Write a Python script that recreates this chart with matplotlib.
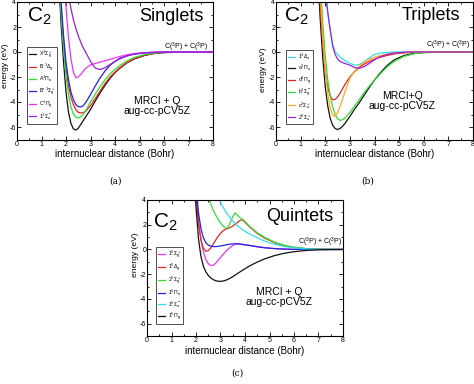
import matplotlib
matplotlib.use("Agg")
import matplotlib.pyplot as plt
from matplotlib.ticker import MultipleLocator

plt.rcParams['font.family'] = ['Liberation Sans', 'DejaVu Sans']
plt.rcParams['mathtext.fontset'] = 'custom'
plt.rcParams['mathtext.rm'] = 'Liberation Sans'
plt.rcParams['mathtext.it'] = 'Liberation Sans'
plt.rcParams['mathtext.default'] = 'regular'
plt.rcParams['axes.unicode_minus'] = False

# ---- data ----
r_sing = [1.7, 1.8, 1.9, 2.0, 2.1, 2.2, 2.3, 2.4, 2.5, 2.6, 2.7, 2.8, 3.0, 3.2, 3.4,
          3.6, 3.8, 4.0, 4.2, 4.5, 4.8, 5.2, 5.6, 6.0, 7.0, 8.0]
sing_X = [6.0, 2.2, -0.8, -3.2, -4.8, -5.7, -6.15, -6.25, -6.1, -5.8, -5.5, -5.2, -4.6, -3.9,
          -3.25, -2.65, -2.1, -1.65, -1.3, -0.85, -0.55, -0.28, -0.12, -0.05, 0, 0]
sing_B = [7.0, 3.5, 0.8, -1.3, -2.7, -3.6, -4.2, -4.6, -4.82, -4.88, -4.85, -4.75, -4.3, -3.7,
          -3.1, -2.5, -2.0, -1.6, -1.25, -0.82, -0.52, -0.26, -0.11, -0.04, 0, 0]
sing_A = [6.5, 3.0, 0.3, -1.9, -3.4, -4.4, -4.95, -5.2, -5.28, -5.2, -5.0, -4.7, -4.0, -3.35,
          -2.75, -2.2, -1.75, -1.38, -1.07, -0.7, -0.43, -0.21, -0.09, -0.03, 0, 0]
sing_Bp = [7.5, 4.0, 1.3, -0.8, -2.2, -3.2, -3.8, -4.2, -4.37, -4.4, -4.3, -4.05, -3.4, -2.7,
           -2.05, -1.5, -1.05, -0.75, -0.5, -0.3, -0.17, -0.08, -0.03, 0, 0, 0]
sing_C = [9.0, 8.0, 6.5, 3.6, 1.2, -0.5, -1.6, -2.05, -2.0, -1.8, -1.55, -1.32, -1.02, -0.92,
          -0.8, -0.7, -0.58, -0.47, -0.36, -0.22, -0.12, -0.05, -0.02, 0, 0, 0]
sing_1Su = [14, 11, 8.5, 6.0, 4.6, 3.5, 2.6, 1.9, 1.3, 0.8, 0.35, 0.0, -0.75, -1.3, -1.4,
            -1.25, -1.0, -0.75, -0.55, -0.3, -0.15, -0.06, -0.02, 0, 0, 0]

r_trip = r_sing
trip_1D = [14, 10, 7, 5.0, 3.2, 1.8, 0.6, 0.05, -0.2, -0.4, -0.55, -0.7, -0.9, -1.05, -1.0,
           -0.75, -0.45, -0.2, -0.1, -0.03, 0, 0, 0, 0, 0, 0]
trip_a = [6.0, 2.5, -0.5, -2.8, -4.3, -5.3, -5.85, -6.12, -6.2, -6.12, -5.95, -5.72, -5.15,
          -4.55, -4.0, -3.4, -2.8, -2.25, -1.75, -1.1, -0.63, -0.28, -0.11, -0.04, 0, 0]
trip_d = [7.0, 3.5, 0.6, -1.5, -2.8, -3.5, -3.82, -3.8, -3.6, -3.3, -2.95, -2.6, -2.0, -1.55,
          -1.2, -0.95, -0.75, -0.58, -0.44, -0.28, -0.16, -0.07, -0.02, 0, 0, 0]
trip_b = [9.0, 5.5, 2.4, -0.3, -2.2, -3.5, -4.4, -5.0, -5.35, -5.47, -5.42, -5.28, -4.85, -4.3,
          -3.75, -3.2, -2.7, -2.25, -1.82, -1.22, -0.75, -0.35, -0.14, -0.05, 0, 0]
trip_c = [8.0, 4.5, 1.2, -1.5, -3.3, -4.5, -5.05, -5.15, -4.85, -4.35, -3.8, -3.2, -2.1, -1.5,
          -1.1, -0.8, -0.58, -0.42, -0.3, -0.17, -0.08, -0.03, 0, 0, 0, 0]
trip_2S = [14, 10, 7, 5.0, 3.2, 1.8, 0.5, -0.2, -0.55, -0.75, -0.85, -0.92, -1.05, -1.25, -1.3,
           -1.15, -0.9, -0.62, -0.4, -0.2, -0.08, -0.02, 0, 0, 0, 0]

r_quin = [1.9, 2.0, 2.1, 2.2, 2.3, 2.4, 2.5, 2.6, 2.7, 2.8, 2.9, 3.0, 3.1, 3.2, 3.3, 3.4, 3.5,
          3.6, 3.7, 3.8, 3.9, 4.0, 4.2, 4.5, 4.8, 5.2, 5.6, 6.0, 6.5, 7.0, 8.0]
quin_1Sg = [9, 4.5, 2.2, 0.8, -0.2, -0.8, -1.15, -1.3, -1.28, -1.12, -0.9, -0.65, -0.42, -0.2,
            0.0, 0.17, 0.32, 0.42, 0.44, 0.43, 0.41, 0.38, 0.32, 0.22, 0.14, 0.07, 0.03, 0.01, 0, 0, 0]
quin_1Dg = [9, 4.8, 2.2, 0.8, 0.1, -0.15, -0.1, 0.12, 0.42, 0.75, 1.05, 1.3, 1.5, 1.63, 1.7,
            1.78, 1.9, 2.05, 2.2, 2.35, 2.4, 2.2, 1.8, 1.3, 0.92, 0.56, 0.31, 0.16, 0.06, 0.02, 0]
quin_2Sg = [12, 10, 8.5, 7, 5.8, 5.0, 4.3, 3.7, 3.2, 2.8, 2.45, 2.15, 1.9, 1.72, 1.75, 2.2,
            2.65, 2.95, 2.75, 2.55, 2.45, 2.25, 1.85, 1.35, 0.98, 0.6, 0.34, 0.18, 0.07, 0.02, 0]
quin_1Pu = [9, 5.2, 3.0, 1.7, 0.95, 0.55, 0.36, 0.27, 0.23, 0.23, 0.25, 0.28, 0.32, 0.36, 0.4,
            0.43, 0.45, 0.46, 0.45, 0.43, 0.41, 0.38, 0.32, 0.22, 0.14, 0.07, 0.03, 0.01, 0, 0, 0]
quin_1Su = [20, 17, 14, 12, 10, 8.5, 7.2, 6.2, 5.4, 4.8, 4.3, 3.8, 3.45, 3.1, 2.8, 2.55, 2.3,
            2.1, 1.9, 1.75, 1.6, 1.47, 1.25, 0.95, 0.68, 0.42, 0.24, 0.12, 0.04, 0.01, 0]
quin_1Pg = [7, 3.4, 0.9, -0.55, -1.35, -1.8, -2.1, -2.3, -2.44, -2.52, -2.57, -2.58, -2.56, -2.5,
            -2.42, -2.32, -2.2, -2.07, -1.94, -1.81, -1.68, -1.56, -1.32, -1.02, -0.76, -0.5,
            -0.31, -0.18, -0.08, -0.03, 0]

BLACK, RED, GREEN, BLUE = '#111111', '#ee2222', '#33dd33', '#2222dd'
MAG, PURP, CYAN, ORANGE = '#ee33ee', '#9922dd', '#33ddee', '#ffaa22'

sing_series = [(sing_X, BLACK, r'X$^1\Sigma^+_g$'), (sing_B, RED, r'B $^1\Delta_g$'),
               (sing_A, GREEN, r'A$^1\Pi_u$'), (sing_Bp, BLUE, r"B' $^1\Sigma^+_g$"),
               (sing_C, MAG, r'C$^1\Pi_g$'), (sing_1Su, PURP, r'1$^1\Sigma^-_u$')]
trip_series = [(trip_1D, CYAN, r'1$^3\Delta_u$'), (trip_a, BLACK, r'a$^3\Pi_u$'),
               (trip_d, RED, r'd$^3\Pi_g$'), (trip_b, GREEN, r'b$^3\Sigma^-_g$'),
               (trip_c, ORANGE, r'c$^3\Sigma^+_u$'), (trip_2S, PURP, r'2$^3\Sigma^+_u$')]
quin_series = [(quin_1Sg, MAG, r'1$^5\Sigma^+_g$'), (quin_1Dg, RED, r'1$^5\Delta_g$'),
               (quin_2Sg, GREEN, r'2$^5\Sigma^+_g$'), (quin_1Pu, BLUE, r'1$^5\Pi_u$'),
               (quin_1Su, CYAN, r'1$^5\Sigma^-_u$'), (quin_1Pg, BLACK, r'1$^5\Pi_g$')]

fig = plt.figure(figsize=(4.74, 3.84), dpi=100)
ax_a = fig.add_axes([17/474, 1-139.5/384, 196/474, 137.5/384])
ax_b = fig.add_axes([276/474, 1-139.5/384, 197/474, 137.5/384])
ax_c = fig.add_axes([147/474, 1-336/384, 196/474, 136/384])


def panel(ax, r, series, title, method, leg_xy, ylab_y, txt):
    for y, col, lab in series:
        ax.plot(r, y, color=col, lw=0.9, label=lab)
    ax.set_xlim(0, 8)
    ax.set_ylim(-7, 4)
    ax.xaxis.set_major_locator(MultipleLocator(1))
    ax.xaxis.set_minor_locator(MultipleLocator(0.5))
    ax.yaxis.set_major_locator(MultipleLocator(2))
    ax.yaxis.set_minor_locator(MultipleLocator(1))
    ax.tick_params(which='both', direction='in', top=True, right=True, labelsize=5,
                   width=0.6, pad=1.0)
    ax.tick_params(axis='y', pad=0.6)
    ax.tick_params(which='major', length=3)
    ax.tick_params(which='minor', length=1.5)
    for s in ax.spines.values():
        s.set_linewidth(0.8)
    ax.set_xlabel('internuclear distance (Bohr)', fontsize=7, labelpad=1)
    ax.set_ylabel('energy (eV)', fontsize=6.1, va='center')
    ax.yaxis.set_label_coords(-0.061, ylab_y)
    leg = ax.legend(loc='upper left', bbox_to_anchor=leg_xy, borderaxespad=0,
                    fontsize=3.8, handlelength=1.4, handletextpad=0.5,
                    labelspacing=0.2, borderpad=0.35, fancybox=False,
                    edgecolor='#333333', framealpha=1)
    leg.get_frame().set_linewidth(0.6)
    (cx, cy), (tx, ty), (mx, my), (px, py) = txt
    ax.text(cx, cy, r'C$_2$', fontsize=15, transform=ax.transAxes, va='top', ha='left')
    ax.text(tx, ty, title, fontsize=13, transform=ax.transAxes, va='top', ha='right')
    ax.text(mx, my, method, fontsize=7.5, transform=ax.transAxes, ha='center', va='center')
    ax.text(mx, my - 0.075, 'aug-cc-pCV5Z', fontsize=7.5, transform=ax.transAxes,
            ha='center', va='center')
    ax.text(px, py, r'C($^3$P) + C($^3$P)', fontsize=5, transform=ax.transAxes,
            ha='right', va='center')


panel(ax_a, r_sing, sing_series, 'Singlets', 'MRCI + Q', (0.05, 0.675), 0.54,
      [(0.05, 0.975), (0.95, 0.955), (0.714, 0.28), (0.975, 0.67)])
panel(ax_b, r_trip, trip_series, 'Triplets', 'MRCI+Q', (0.05, 0.652), 0.51,
      [(0.04, 0.975), (0.935, 0.962), (0.64, 0.316), (0.985, 0.687)])
panel(ax_c, r_quin, quin_series, 'Quintets', 'MRCI + Q', (0.046, 0.655), 0.6,
      [(0.03, 0.915), (0.95, 0.94), (0.673, 0.324), (0.998, 0.69)])

for x, y, s in [(115, 181, '(a)'), (368, 181, '(b)'), (237, 373, '(c)')]:
    fig.text(x/474, 1-y/384, s, fontsize=6.5, family='DejaVu Serif', ha='center', va='center')

fig.savefig('out.png', dpi=100)
